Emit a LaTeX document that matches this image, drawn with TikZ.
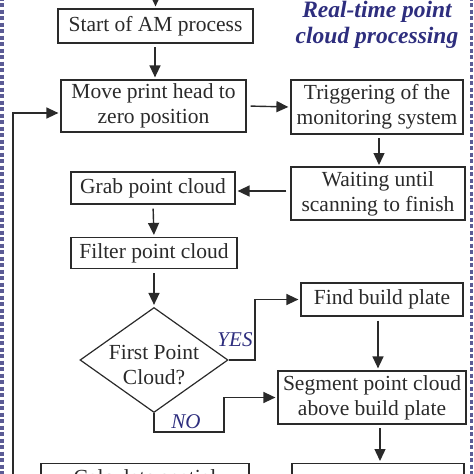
\documentclass[tikz,border=0pt]{standalone}
\usepackage{fontspec}
\setmainfont{Liberation Serif}
\usetikzlibrary{shapes.geometric,arrows.meta}
\definecolor{framec}{HTML}{5B5B95}
\definecolor{titlec}{HTML}{2E2E7E}
\definecolor{linec}{HTML}{2A2A2A}

\begin{document}
\begin{tikzpicture}[x=1pt,y=-1pt,
  box/.style={draw=linec,line width=1.2pt,inner sep=0pt,align=center,
    font=\fontsize{21.5}{25}\selectfont,text=linec},
  arr/.style={line width=1.4pt,draw=linec,-{Triangle[length=12pt,width=11pt]},
    shorten >=2pt,shorten <=4pt},
  lbl/.style={font=\fontsize{21}{24}\selectfont\itshape,text=titlec},
  frame/.style={draw=framec,line width=3.5pt,dash pattern=on 4pt off 2.5pt}]
\useasboundingbox (0,0) rectangle (474,474);
\clip (0,0) rectangle (474,474);
\draw[frame] (2,-10) -- (2,480);
\draw[frame] (471.5,-10) -- (471.5,480);
\node [lbl,font=\fontsize{23.5}{25.5}\selectfont\bfseries\itshape,align=center] (title) at (377,25)
  {Real-time point\\cloud processing};
\node [box,minimum width=195,minimum height=34] (start) at (155.5,26) {Start of AM process};
\node [box,minimum width=185,minimum height=52] (move) at (153.5,106) {Move print head to\\zero position};
\node [box,minimum width=172,minimum height=54] (trig) at (377,107) {Triggering of the\\monitoring system};
\node [box,minimum width=174,minimum height=53] (wait) at (378,193.5) {Waiting until\\scanning to finish};
\node [box,minimum width=164,minimum height=32] (grab) at (153,188) {Grab point cloud};
\node [box,minimum width=166,minimum height=31] (filter) at (154,253) {Filter point cloud};
\node [box,diamond,aspect=1.41,minimum width=148,minimum height=105] (first) at (154,360) {};
\node [box,draw=none] (firsttext) at (154,365) {First Point\\Cloud?};
\node [box,minimum width=162,minimum height=33] (find) at (382,299.5) {Find build plate};
\node [box,minimum width=188,minimum height=53] (seg) at (372,397.5) {Segment point cloud\\above build plate};
\node [box,anchor=north,minimum width=208,inner ysep=6pt] (calc) at (145,463) {Calculate spatial};
\node [box,anchor=north,minimum width=172,minimum height=53] (res) at (378,463) {};
\coordinate (top) at (155.5,-4);
\coordinate (yesturn) at (255,360);
\coordinate (noturn) at (224,432);
\coordinate (loopbot) at (13,490);
\draw[arr] (top) -- (start.north);
\draw[arr] (155,43) -- (move.north -| 155,0);
\draw[arr] (move.east) -- (trig.west);
\draw[arr] (379,134) -- (379,167);
\draw[arr] (wait.west |- 0,191) -- (grab.east |- 0,191);
\draw[arr] (grab.south) -- (filter.north);
\draw[arr] (filter.south) -- (first.north);
\draw[arr,shorten <=0pt] (first.east) -- (yesturn) |- (find.west);
\draw[arr] (find.south -| 378,0) -- (seg.north -| 378,0);
\draw[arr,shorten <=0pt] (first.south) |- (noturn) |- (seg.west);
\draw[arr] (380,424) -- (res.north -| 380,0);
\draw[arr,shorten <=0pt] (loopbot) |- ([yshift=-7pt]move.west);
\node [lbl] (yes) at (235,340) {YES};
\node [lbl] (no) at (186,422) {NO};
\end{tikzpicture}
\end{document}
